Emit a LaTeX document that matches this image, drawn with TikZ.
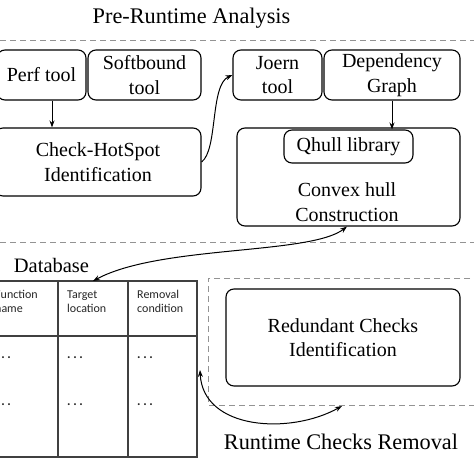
\documentclass[tikz,border=0pt]{standalone}
\usepackage{fontspec}
\setmainfont{Liberation Serif}
\newfontfamily\serifmain{Liberation Serif}
\newfontfamily\tabfont{Carlito}
\usetikzlibrary{arrows.meta,calc}
\begin{document}
\begin{tikzpicture}[x=1pt,y=-1pt,
  box/.style={draw,line width=1.1pt,rounded corners=8pt,align=center,inner sep=0pt,
    font=\serifmain\fontsize{20}{24.5}\selectfont},
  lbl/.style={inner sep=0pt,font=\serifmain\fontsize{22.3}{26}\selectfont},
  dashline/.style={draw=gray!85,line width=0.9pt,dash pattern=on 6pt off 4pt},
  conn/.style={line width=1pt,-{Stealth[length=7pt,width=5pt]}},
  conn2/.style={line width=1pt,{Stealth[length=7pt,width=5pt]}-{Stealth[length=7pt,width=5pt]}},
  tgrid/.style={draw=black!75,line width=1.1pt},
  ttext/.style={inner sep=0pt,anchor=west,align=left,text=black!85,font=\tabfont\fontsize{12}{13.5}\selectfont},
  tdots/.style={inner sep=0pt,anchor=west,text=black!85,font=\tabfont\bfseries\fontsize{13}{14}\selectfont}]
\useasboundingbox (0,0) rectangle (474,474);
\clip (0,0) rectangle (474,474);
\fill[white] (0,0) rectangle (474,474);

% titles
\node[lbl] (pretitle) at (191.5,18) {Pre-Runtime Analysis};
\node[lbl] (rttitle) at (341,442) {Runtime Checks Removal};
\node[lbl,font=\serifmain\fontsize{20.5}{24}\selectfont] (dbtitle) at (51.5,265) {Database};

% dashed separators
\coordinate (d1a) at (0,40); \coordinate (d1b) at (474,40);
\coordinate (d2a) at (0,242); \coordinate (d2b) at (474,242);
\draw[dashline] (d1a) -- (d1b);
\draw[dashline] (d2a) -- (d2b);
\draw[dashline] (480,278) -- (208,278) -- (208,405) -- (480,405);

% pre-runtime boxes
\node[box,minimum width=89pt,minimum height=50pt] (perf) at (41.5,75) {Perf tool};
\node[box,minimum width=113pt,minimum height=50pt] (soft) at (144.5,75) {Softbound\\tool};
\node[box,minimum width=206pt,minimum height=68pt] (hot) at (98,162) {Check-HotSpot\\Identification};
\node[box,minimum width=89pt,minimum height=50pt] (joern) at (277.5,75) {Joern\\tool};
\node[box,minimum width=136pt,minimum height=50pt] (dep) at (392,75) {Dependency\\Graph};
\node[box,minimum width=223pt,minimum height=98pt] (convex) at (348.5,177) {};
\node[box,minimum width=129pt,minimum height=33pt] (qhull) at (348.5,146.5) {Qhull library};
\node[box,draw=none] (convtext) at (347,202) {Convex hull\\Construction};

% runtime box
\node[box,minimum width=234pt,minimum height=97pt] (red) at (343,337.5) {Redundant Checks\\Identification};

% table
\draw[tgrid] (-13,281) rectangle (197,457);
\draw[tgrid] (-13,336) -- (197,336);
\draw[tgrid] (58,281) -- (58,457);
\draw[tgrid] (128,281) -- (128,457);
\node[ttext] (h1) at (-5,301.5) {Function\\name};
\node[ttext] (h2) at (67,301.5) {Target\\location};
\node[ttext] (h3) at (137,301.5) {Removal\\condition};
\node[tdots] (r11) at (-5,358) {.\hspace{2.6pt}.\hspace{2.6pt}.};
\node[tdots] (r12) at (67,358) {.\hspace{2.6pt}.\hspace{2.6pt}.};
\node[tdots] (r13) at (137,358) {.\hspace{2.6pt}.\hspace{2.6pt}.};
\node[tdots] (r21) at (-5,405) {.\hspace{2.6pt}.\hspace{2.6pt}.};
\node[tdots] (r22) at (67,405) {.\hspace{2.6pt}.\hspace{2.6pt}.};
\node[tdots] (r23) at (137,405) {.\hspace{2.6pt}.\hspace{2.6pt}.};
\coordinate (tabtop) at (93,281);
\coordinate (tabright) at (200,370);
\coordinate (rtbottom) at (342,406);

% connectors
\draw[conn] ([xshift=10.5pt]perf.south) -- ([xshift=10.5pt]perf.south |- hot.north);
\draw[conn] (hot.east) .. controls (218,150) and (210,85) .. (joern.west);
\draw[conn] (dep.south) -- (dep.south |- qhull.north);
\draw[conn2] ([xshift=-1.5pt]convex.south) .. controls (310,255) and (160,245) .. (tabtop);
\draw[conn2] (tabright) .. controls (203,430) and (290,435) .. (rtbottom);
\end{tikzpicture}
\end{document}
